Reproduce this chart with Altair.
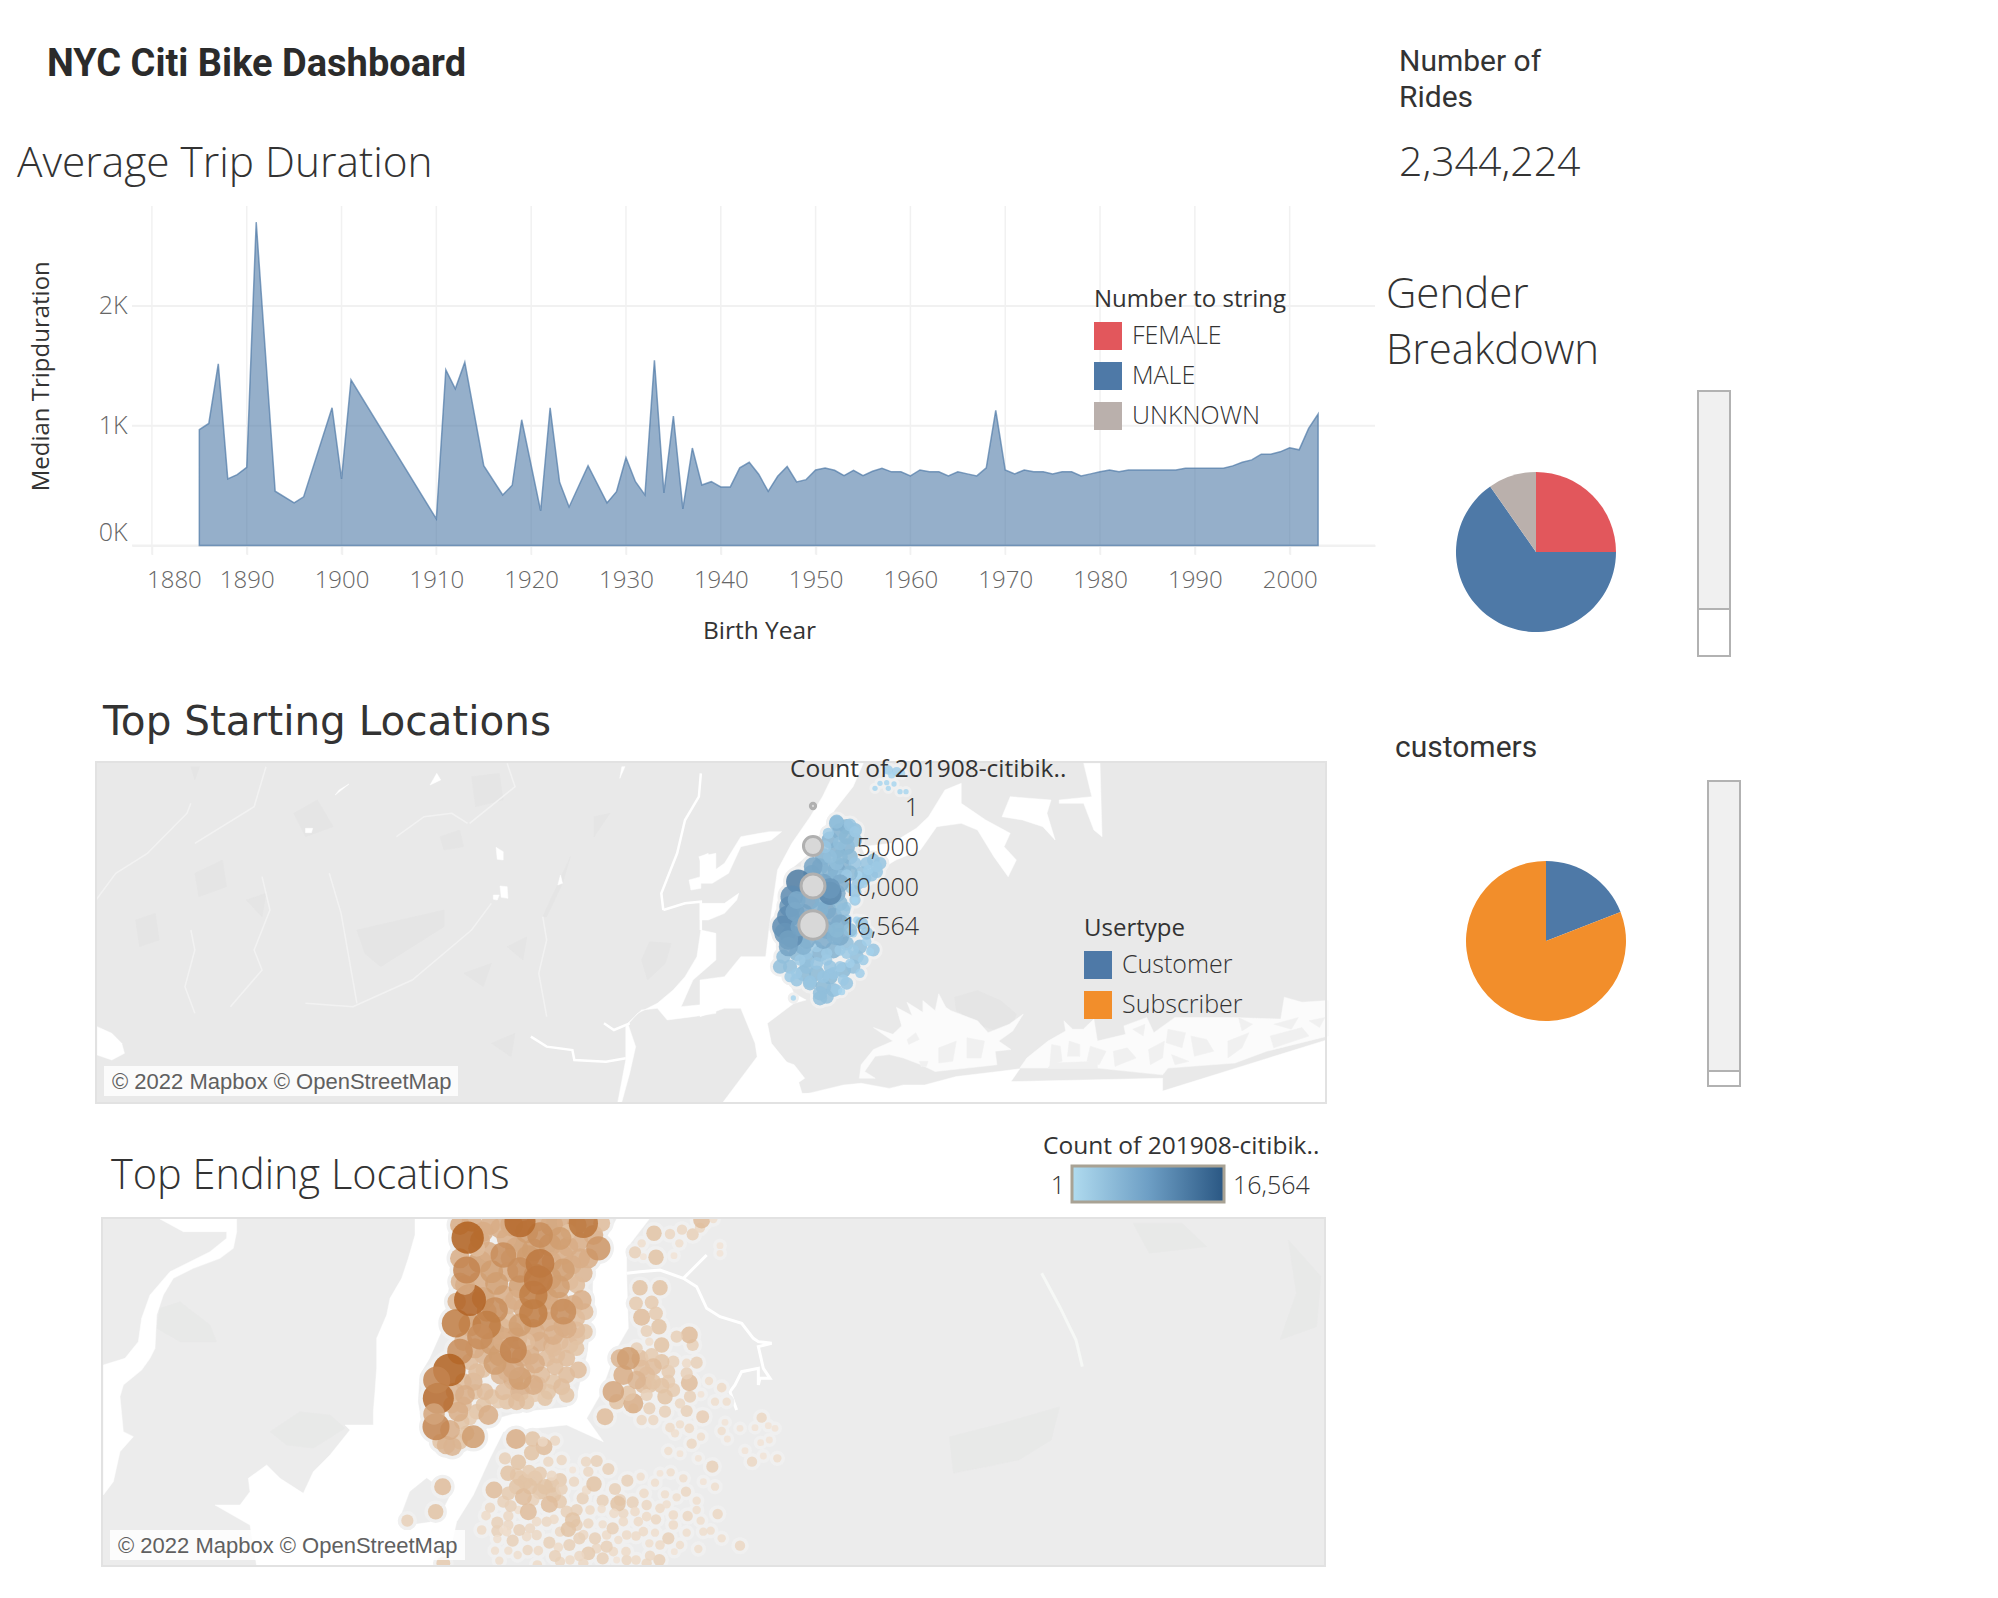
import altair as alt
import pandas as pd

# ---------- area chart ----------
birth_year = [1885,1886,1887,1888,1889,1890,1891,1893,1895,1896,1899,1900,1901,1910,1911,1912,1913,1915,1917,1918,1919,1921,1922,1923,1924,1926,1928,1929,1930,1931,1932,1933,1934,1935,1936,1937,1938,1939,1940,1941,1942,1943,1944,1945,1946,1947,1948,1949,1950,1951,1952,1953,1954,1955,1956,1957,1958,1959,1960,1961,1962,1963,1964,1965,1966,1967,1968,1969,1970,1971,1972,1973,1974,1975,1976,1977,1978,1979,1980,1981,1982,1983,1984,1985,1986,1987,1988,1989,1990,1991,1992,1993,1994,1995,1996,1997,1998,1999,2000,2001,2002,2003]
median_trip = [967,1019,1517,556,592,653,2700,453,356,406,1150,556,1383,222,1467,1308,1531,667,422,503,1050,289,1150,528,322,667,356,450,733,533,422,1547,439,1081,306,814,506,533,489,489,648,695,595,452,578,659,531,550,631,648,628,584,628,584,620,645,615,615,581,631,615,615,581,615,598,581,648,1128,631,598,631,615,615,598,615,615,581,598,615,631,615,631,631,631,631,631,631,645,645,645,645,645,665,695,715,763,763,782,816,799,978,1098]
year_ticks = list(range(1880, 2001, 10))
value_ticks = [0, 1000, 2000]

# ---------- pies ----------
gender_labels = ["FEMALE", "MALE", "UNKNOWN"]
gender_share = [25.0, 65.3, 9.7]
gender_colors = ["#e2575c", "#4e79a7", "#bab0ac"]
user_labels = ["Customer", "Subscriber"]
user_share = [19.1, 80.9]
user_colors = ["#4e79a7", "#f28e2b"]

# ---------- start stations (map units, count) ----------
start_fill_upper = [(290,190,2630),(320,200,2630),(345,210,1975),(300,215,3360),(270,240,3360),(320,260,3360),(345,240,1975),(290,270,3360),(250,290,3360),(330,290,2630),(240,320,3360),(310,320,3360),(345,310,1390),(215,340,3360),(290,330,4170),(330,340,2630)]
start_fill_queens = [(400,300,1390),(420,310,1390),(380,310,1390),(365,340,1975),(395,345,1390),(410,335,1390),(355,370,1390),(375,355,1390),(345,395,1390),(345,420,890)]
start_fill_lower = [(130,590,1975),(170,580,2630),(200,600,2630),(240,580,3360),(280,570,3360),(320,550,1975),(360,560,1975),(400,570,1390),(350,590,1975),(150,620,1975),(190,640,2630),(230,640,2630),(270,650,2630),(310,630,2630),(340,620,1975),(170,660,1390),(210,670,1975),(250,680,2630),(280,690,1975),(320,670,1390),(260,710,1975),(240,715,1975)]
start_brooklyn = [(120,620,1975),(150,650,890),(170,640,890),(200,620,1975),(230,610,1390),(260,600,890),(280,640,1390),(300,620,890),(330,610,465),(340,570,890),(380,545,465),(390,575,250),(370,600,712),(360,640,465),(310,660,890),(240,700,1975),(290,690,890),(305,695,117),(160,714,1),(210,665,1390),(250,650,1390),(200,580,1390),(230,560,890),(260,580,890),(180,600,890),(320,580,890),(300,570,890),(270,620,1390),(340,520,250),(320,480,890),(350,480,117)]
start_queens = [(355,345,250),(385,330,712),(410,320,890),(370,370,465),(345,420,117),(320,440,465),(330,385,465)]
start_upper = [(300,350,1975),(320,345,890),(280,350,1390),(260,360,1390),(220,320,5060),(270,330,3360),(290,310,1975),(300,290,2630),(270,290,1975),(300,250,1975),(320,230,2630),(330,195,1390),(290,185,1975),(345,215,890),(265,220,890),(255,260,1390)]
start_fill_mid = [(210,380,4170),(250,370,5060),(300,370,4170),(290,400,4170),(210,420,5060),(260,450,5060),(300,430,2630),(190,460,5060),(230,480,4170),(280,470,4170),(310,450,1975),(215,510,4170),(260,510,4170),(300,490,4170),(250,540,4170),(200,540,4170),(300,530,4170),(330,510,1975),(365,490,1390),(380,520,1390)]
start_lower = [(285,530,3360),(290,510,2630),(190,560,3360),(230,390,1975),(240,450,3360),(250,420,3360),(280,410,2630),(150,440,7080),(130,500,8200),(155,530,8200),(270,400,9000),(270,385,6500),(175,365,10700),(155,410,8200),(145,470,8200),(165,455,5060),(170,420,4170),(135,520,7080),(180,500,5060),(145,560,5060),(145,540,5500)]
start_north = [(445,30,465),(470,35,465),(455,45,117),(485,40,117),(440,68,1),(420,70,1),(462,72,1),(405,85,1),(445,85,1),(480,95,1),(498,95,1)]
size_legend_values = [1, 5000, 10000, 16564]
size_legend_labels = ["1", "5,000", "10,000", "16,564"]

# ---------- end stations (map units, count) ----------
end_far_south = [(-38,917,1230),(68,815,3220),(47,890,2480),(1025,608,720),(1005,638,67),(1045,632,67),(1065,640,67),(1022,683,67),(1048,675,67),(975,707,67),(1030,723,67),(996,740,720),(1072,730,290),(905,648,290),(922,672,67),(877,755,1230),(960,640,67),(915,622,67),(843,665,290),(815,686,720),(745,708,290),(780,716,67),(835,730,67),(750,638,540),(765,655,290),(808,640,540),(780,628,290)]
end_south_fill = [(420,860,1810),(300,790,2480),(345,790,2480),(395,810,2480),(330,815,2480),(290,780,1810),(250,860,1230),(360,830,2480),(315,800,2480),(400,840,2480),(420,795,1810),(265,930,720),(330,940,720),(350,920,540),(380,920,720),(420,950,720),(470,930,1230),(505,925,720),(490,960,720),(600,855,1230),(610,895,720),(680,870,720),(680,905,540),(720,880,540),(760,900,540),(760,930,540),(830,885,290),(850,950,290),(560,960,540),(620,960,540),(670,950,540),(720,990,540),(780,990,290),(580,1010,540),(350,960,720),(320,965,540),(260,950,540),(420,1040,720),(530,1000,720),(620,1035,720),(680,1045,720)]
end_south_a = [(622,797,1230),(585,822,1230),(662,785,290),(705,803,290),(720,775,67),(752,772,290),(790,790,290),(850,800,67),(885,815,290),(672,835,540),(735,838,290),(798,830,720),(770,847,290),(830,857,290),(740,868,290),(488,850,1230),(548,857,1230),(594,866,2480),(638,862,1230),(210,878,720),(198,902,540),(232,923,1230),(265,903,720),(295,885,290),(440,890,1230),(470,885,1230),(510,885,540),(545,882,290),(645,890,540),(582,895,540),(708,913,720),(803,903,720),(893,897,720),(842,917,290),(402,913,540),(548,928,290),(610,920,540),(655,920,540),(578,940,1230),(185,945,540),(298,945,1230)]
end_south_b = [(232,948,1230),(250,945,290),(705,953,290),(800,953,290),(872,947,290),(905,970,290),(648,963,540),(745,970,1230),(478,970,1230),(525,970,1230),(278,977,1230),(232,972,290),(388,983,1230),(595,975,290),(688,985,290),(960,992,720),(448,990,1230),(415,997,540),(560,995,1230),(835,1002,290),(225,1007,290),(265,1007,290),(323,1005,720),(355,1007,540),(505,1015,1810),(618,1010,540),(763,1010,67),(405,1023,1230),(478,1023,720),(293,1020,290),(548,1030,1230),(718,1035,1230),(690,1022,720),(648,1035,540),(590,1035,67),(238,1037,290),(450,1035,540),(352,1050,540),(490,1045,720),(70,1045,1810)]
end_downtown_bk = [(405,677,720),(255,730,1230),(385,740,720),(425,735,720),(498,740,720),(530,738,1230),(458,765,67),(505,770,720),(565,762,1230),(395,782,720),(462,800,720),(500,825,540),(425,822,1230),(340,855,1230),(272,873,1230),(288,672,4940),(338,672,2480),(372,695,3220),(368,680,720),(335,713,2480),(295,742,2480),(264,775,2480),(327,770,1810),(360,775,1810),(222,825,3220),(290,815,2480),(265,835,1810),(375,815,2480),(310,845,3220),(522,807,2480),(325,890,3220),(388,868,3220),(458,915,2480),(445,943,2480)]
end_north_bk = [(702,55,2480),(750,57,720),(786,44,720),(818,58,1230),(840,38,720),(845,15,3220),(880,12,290),(645,112,1230),(665,85,290),(708,127,2480),(670,125,67),(778,85,290),(762,122,67),(900,92,67),(900,115,67),(660,218,2480),(720,218,2480),(648,265,1810),(695,262,1810),(665,307,3220),(708,295,1810),(717,335,2480),(680,348,1230),(688,380,290)]
end_mid_fill = [(680,480,3220),(690,510,2480),(670,510,3220),(600,430,4050),(745,470,1810),(745,500,1810),(700,500,2480),(660,430,3220)]
end_mid_bk = [(867,498,290),(905,518,540),(920,560,290),(885,560,290),(843,538,67),(848,605,1500),(700,615,720),(665,615,720),(688,580,1230),(800,588,1230),(780,565,720),(735,590,1230),(680,540,1230),(810,545,1230),(760,525,1810),(725,512,2480),(735,545,2480),(808,503,3220),(800,475,1230),(800,445,540),(830,443,1230),(760,440,1230),(818,390,1230),(808,360,3220),(770,365,1230),(725,390,2480),(725,440,2480),(695,420,1810),(700,455,3220),(665,460,3220),(650,400,1230),(640,580,720),(590,560,2480),(555,605,3220),(640,565,4940),(625,535,2480),(580,530,5920),(650,495,4050),(610,480,4940),(625,430,6970)]
end_fill_low = [(130,500,3220),(165,530,2480),(190,570,2480),(215,545,2480),(260,560,2480),(300,530,4940),(320,560,2480),(375,550,2480),(130,570,3220),(170,590,2480),(105,530,4050),(95,570,3220),(60,680,2480),(120,680,2480),(190,420,4050),(240,420,6970),(330,420,4940),(380,430,3220),(440,430,3220),(150,440,3220),(190,465,2480),(240,480,4050),(280,495,4940),(355,510,3220),(400,500,2480),(440,480,3220)]
end_fill_mid = [(150,330,6970),(240,340,6970),(280,350,4940),(340,340,4050),(430,335,4940),(470,345,3220),(130,380,4050),(165,400,4940),(215,385,6970),(290,370,5920),(360,380,4940),(400,400,3220),(470,400,2480),(110,260,4050),(190,250,6970),(250,240,4940),(380,250,6970),(420,260,4940),(460,270,4940),(200,290,4940),(265,270,4050),(310,280,4940),(385,285,4940),(470,310,3220)]
end_fill_top = [(120,30,4940),(155,20,4940),(210,30,4940),(275,30,6970),(320,50,6970),(395,30,6970),(440,20,4940),(520,60,4940),(180,75,4940),(290,100,6970),(390,90,6970),(340,105,6970),(445,95,4940),(505,130,4940),(180,140,6970),(120,130,4940),(265,170,4940),(270,130,4050),(345,180,6970),(390,190,6970),(455,150,4940),(490,175,4050),(450,200,3220),(120,200,4050),(175,200,4940),(300,215,6970)]
end_mn_east = [(345,540,1810),(385,530,2480),(425,515,3220),(440,540,2480),(475,465,3220),(405,455,3220),(410,420,3220),(450,390,3220),(470,365,3220),(495,350,2480),(365,480,3220),(395,390,3220),(320,470,3220),(260,470,4050),(420,380,3220),(345,350,4940),(235,560,1810),(290,560,3220),(250,530,3220),(305,425,4940),(345,445,4940),(340,510,4940),(300,490,6970)]
end_mn_mid = [(240,40,4940),(190,50,4940),(260,70,4940),(205,110,4940),(170,100,3220),(470,210,3220),(480,130,4940),(470,30,4940),(475,80,4940),(350,20,4940),(430,120,4940),(445,50,2480),(545,25,3220),(495,290,3220),(485,255,4940),(440,340,4940),(400,360,4940),(385,320,4940),(395,140,4940),(265,315,3220),(320,380,3220),(250,380,4940),(300,330,6970),(285,255,4940),(280,460,5920),(225,445,6970),(230,205,6970),(215,170,6970),(250,120,9320),(325,125,6970),(300,165,9320),(225,285,9320),(200,330,11980),(430,165,6970),(415,215,6970),(430,290,9320),(420,70,6970),(535,100,8100),(360,60,9320),(300,20,14950),(490,25,13000),(340,240,11980),(340,295,11980),(280,405,10600),(360,145,12500),(355,195,12500)]
end_mn_west = [(150,610,1810),(125,620,2480),(97,695,4050),(78,690,4050),(140,655,2480),(195,530,3220),(160,500,4050),(170,470,3220),(205,600,4940),(115,590,4940),(135,540,4940),(90,645,4940),(120,410,9320),(180,365,9320),(48,635,10610),(160,665,6970),(55,550,14950),(88,465,16564),(42,597,5920),(50,495,10610),(108,325,11980),(150,255,16000),(135,210,4940),(140,165,10610),(143,68,16564)]

# ---------- base-map shapes ----------
m1_atlantic_z12 = [(0,295),(40,310),(70,350),(35,375),(60,400),(180,370),(230,365),(310,380),(350,370),(410,370),(500,345),(620,330),(680,322),(655,360),(1085,350),(1085,388),(1555,235),(1555,423),(0,423)]
m1_jamaica_z12 = [(265,200),(320,220),(345,195),(330,140),(375,165),(360,125),(405,155),(405,120),(440,150),(450,100),(470,140),(485,150),(560,180),(590,215),(650,190),(690,160),(660,210),(620,240),(655,265),(610,270),(615,310),(530,320),(440,330),(400,310),(350,290),(310,280),(270,285),(240,330),(270,350),(225,350),(230,310),(265,265),(320,240)]
m1_south_lagoon_z12 = [(700,290),(760,240),(810,210),(805,180),(830,205),(860,205),(890,175),(900,240),(980,220),(975,195),(1040,170),(1060,215),(1120,170),(1280,170),(1420,175),(1430,110),(1480,125),(1555,120),(1555,225),(1380,270),(1290,305),(1100,320),(1085,340),(900,320),(680,320)]
m1_islands_z12 = [[(360,235),(385,215),(395,235),(365,250)],[(395,300),(420,300),(415,315),(400,315)],[(820,240),(850,250),(850,285),(815,285)],[(770,250),(795,255),(800,300),(765,310)],[(880,255),(925,270),(905,310),(870,300)],[(945,270),(985,260),(1010,290),(950,315)],[(1045,265),(1090,240),(1085,290),(1050,310)],[(1100,205),(1150,215),(1140,260),(1095,245)],[(1165,225),(1210,235),(1230,270),(1175,285)],[(1110,280),(1160,300),(1120,310)],[(1270,240),(1330,215),(1310,260),(1270,290)],[(1300,170),(1340,190),(1310,210)],[(1400,190),(1470,170),(1450,205)],[(1390,225),(1480,200),(1500,225),(1400,260)],[(1500,180),(1545,170),(1530,200)],[(1000,205),(1035,190),(1030,225)],[(770,305),(900,300),(900,320),(760,320)],[(450,260),(500,240),(490,300),(450,305)],[(530,230),(580,240),(570,290),(530,290)]]
m1_airport_z12 = [(495,110),(560,90),(625,120),(670,160),(660,190),(620,210),(585,200),(500,150)]
m1_bay_z8 = [(190,590),(100,590),(60,650),(0,660),(0,770),(60,745),(100,745),(135,850),(140,890),(55,1029),(500,1029),(530,1000),(250,1000),(235,940),(175,850),(165,790),(230,730),(260,720),(230,700)]
m1_hudson_z8 = [(340,10),(400,10),(375,80),(330,150),(300,210),(260,290),(210,340),(215,600),(160,600),(170,500),(190,330),(225,250),(270,170),(300,110)]
m1_sound_z8 = [[(395,260),(470,250),(530,205),(560,170),(600,90),(640,70),(640,130),(700,180),(760,220),(745,260),(775,300),(755,350),(720,290),(680,210),(640,190),(580,200),(540,270),(480,300),(440,330),(410,300)],[(740,170),(760,110),(860,120),(850,160),(870,240),(840,200),(790,180)],[(880,120),(960,110),(940,10),(980,10),(985,230),(965,210),(940,130),(880,130)]]
m1_west_z8 = [[(0,290),(20,280),(25,340),(60,310),(100,230),(170,215),(200,215),(175,240),(100,260),(70,340),(30,370),(0,370)],[(0,430),(60,430),(95,400),(90,420),(60,460),(20,480),(0,480)]]
m1_newark_z9 = [(1530,510),(1568,520),(1568,600),(1510,660),(1480,740),(1568,730),(1568,760),(1510,770),(1445,780),(1420,745),(1380,750),(1345,790),(1365,860),(1350,940),(1330,1026),(1320,1026),(1340,900),(1340,800),(1370,760),(1420,730),(1460,690),(1490,650),(1520,590)]
m1_lakes_z9 = [[(3,800),(40,820),(65,850),(72,880),(40,900),(3,885)],[(1012,262),(1030,275),(1030,300),(1015,298)],[(1022,378),(1040,380),(1042,415),(1025,412)],[(1005,405),(1020,405),(1015,420),(1005,418)],[(640,72),(605,105),(615,90)],[(862,40),(872,60),(845,75)],[(530,205),(548,205),(545,218),(530,218)],[(1330,20),(1338,20),(1325,55)],[(1175,345),(1180,370),(1168,375)],[(1525,290),(1568,280),(1568,360),(1545,360)],[(1500,360),(1530,350),(1530,385),(1505,390)]]
m1_patches_z9 = [[(1380,600),(1400,545),(1455,550),(1440,610),(1395,660)],[(1130,470),(1200,290),(1180,370),(1140,470)],[(870,230),(920,210),(930,260),(880,270)],[(660,510),(880,450),(880,500),(720,620),(680,580)],[(950,50),(1020,40),(1030,120),(960,140)],[(930,640),(1000,610),(980,680)],[(1260,170),(1300,160),(1260,230)],[(240,20),(262,20),(250,60)],[(100,480),(150,460),(160,540),(110,560)],[(500,160),(560,120),(600,200),(530,230)],[(250,340),(320,300),(330,380),(260,410)],[(380,420),(430,400),(420,470)],[(1040,560),(1090,530),(1080,600)],[(1000,850),(1060,820),(1050,890)]]
m1_rivers_z9 = [[(1435,450),(1430,400),(1450,340),(1470,280),(1490,180),(1525,110),(1530,40)],[(1435,450),(1490,430),(1530,425),(1530,510)],[(1100,830),(1140,860),(1205,870),(1210,900),(1290,905),(1340,895)],[(1285,790),(1310,810),(1350,790)]]
m1_faint_z9 = [[(945,190),(1060,80),(1040,10)],[(530,730),(650,740),(800,660),(950,510),(1000,430)],[(1130,470),(1140,540),(1120,640),(1140,770)],[(420,350),(440,450),(400,570),(420,630),(340,740)],[(240,510),(250,570),(225,680),(250,760)],[(0,420),(50,340),(130,280),(230,160),(240,130)],[(660,730),(620,460),(590,340)],[(760,230),(830,170),(900,160),(940,190)],[(250,250),(400,140),(410,100),(430,20)]]

m2_bay = [(-15,9),(-15,60),(-35,130),(-55,190),(-90,250),(-100,300),(-130,370),(-130,460),(-135,530),(-140,590),(-140,630),(-225,630),(-210,645),(-270,720),(-320,770),(-350,835),(-420,790),(-460,750),(-515,790),(-510,830),(-540,870),(-615,870),(-510,930),(-490,1053),(80,1053),(110,920),(160,840),(210,730),(250,650),(440,630),(550,680),(500,610),(540,540),(590,400),(625,340),(620,180),(620,100),(690,9)]
m2_manhattan = [(590,9),(520,140),(515,300),(500,420),(470,540),(440,575),(300,590),(230,610),(170,670),(120,700),(60,690),(10,650),(-5,560),(0,480),(30,430),(70,340),(90,200),(95,9)]
m2_govisland = [(-30,830),(20,790),(90,840),(70,880),(30,920),(-40,930),(-60,910)]
m2_passaic = [(-780,12),(-550,12),(-550,50),(-560,100),(-600,130),(-680,160),(-740,190),(-770,240),(-790,300),(-795,400),(-810,430),(-835,465),(-890,510),(-900,545),(-890,650),(-860,665),(-900,710),(-920,800),(-950,840),(-950,450),(-885,430),(-845,380),(-835,310),(-810,240),(-750,170),(-630,110),(-580,70),(-580,50),(-710,50)]
m2_patches = [[(-780,280),(-720,260),(-630,330),(-610,380),(-720,380),(-790,340)],[(-450,650),(-360,590),(-270,600),(-225,640),(-320,700),(-400,690)],[(1747,625),(1919,575),(1894,675),(1797,735),(1600,775),(1588,665)],[(2605,75),(2703,185),(2690,335),(2580,375),(2629,235)],[(2139,25),(2286,25),(2360,95),(2188,115)],[(-230,710),(-190,700),(-170,730),(-205,760)]]
m2_creek = [[(620,175),(660,170),(720,165),(790,190),(830,215),(860,280),(900,305),(965,325),(1000,370),(1015,380),(1055,385),(1015,395),(1030,460),(1050,490),(1020,490),(1015,510),(1015,460),(965,470),(945,510),(930,530),(950,585)],[(790,190),(860,120)]]
m2_flushing = [[(1865,175),(1919,275),(1968,375),(1987,455)]]

FONT_LIGHT = "Open Sans"
ONE = pd.DataFrame({"a": [0]})


def z8(p):
    return [(1.2245 * x - 120, y) for x, y in p]


def z9(p):
    return [(1.186 * x - 1932, y) for x, y in p]


def z12(p):
    return [(1.058 * x + 120, 1.0135 * y + 600) for x, y in p]


def shape_frame(shapes):
    rows = []
    for i, pts in enumerate(shapes):
        for j, (x, y) in enumerate(pts):
            rows.append({"x": x, "y": y, "id": i, "ord": j})
    return pd.DataFrame(rows)


def polygons(shapes, fill, sx, sy):
    return alt.Chart(shape_frame(shapes)).mark_line(
        fill=fill, stroke=fill, strokeWidth=0.5, interpolate="linear-closed"
    ).encode(
        x=alt.X("x:Q", scale=sx, axis=None),
        y=alt.Y("y:Q", scale=sy, axis=None),
        detail="id:N",
        order="ord:Q",
    )


def paths(shapes, color, width, sx, sy):
    return alt.Chart(shape_frame(shapes)).mark_line(stroke=color, strokeWidth=width).encode(
        x=alt.X("x:Q", scale=sx, axis=None),
        y=alt.Y("y:Q", scale=sy, axis=None),
        detail="id:N",
        order="ord:Q",
    )


def text(s, px, py, size, font="Open Sans", weight=400, color="#333333", align="left"):
    return alt.Chart(pd.DataFrame({"label": [s]})).mark_text(
        align=align, baseline="middle", font=font, fontSize=size, fontWeight=weight, color=color
    ).encode(text="label:N", x=alt.value(px - 8), y=alt.value(py - 8))


def box(px0, py0, px1, py1, **kw):
    return alt.Chart(ONE).mark_rect(**kw).encode(
        x=alt.value(px0 - 8), x2=alt.value(px1 - 8), y=alt.value(py0 - 8), y2=alt.value(py1 - 8)
    )


def station_frame(*groups):
    rows = [r for g in groups for r in g]
    return pd.DataFrame(rows, columns=["x", "y", "count"])


def credit(px0, py0, px1, py1):
    return [
        box(px0, py0, px1, py1, color="#ffffff", opacity=0.82),
        text("© 2022 Mapbox © OpenStreetMap", px0 + 8, (py0 + py1) / 2 + 1, 22, font="Liberation Sans", color="#606060"),
    ]


# ---------- area chart ----------
ax = alt.Scale(domain=[1877.9, 2009.0], range=[124, 1367], nice=False, zero=False)
ay = alt.Scale(domain=[0, 2835], range=[537.5, 198], nice=False)
x_axis = alt.Axis(
    values=year_ticks, format="d", title="Birth Year", orient="bottom", offset=-1044.5,
    grid=False, domainColor="#f1f1f1", domainWidth=2,
    tickColor="#f1f1f1", tickSize=9, tickWidth=1.5,
    labelFont=FONT_LIGHT, labelFontWeight=300, labelFontSize=24, labelColor="#666666", labelPadding=14,
    labelOffset=alt.expr("datum.value==1880?22:0"),
    titleFont=FONT_LIGHT, titleFontWeight=400, titleFontSize=24.5, titleColor="#333333", titlePadding=27, titleX=751,
)
y_axis = alt.Axis(
    values=value_ticks, labelExpr="(datum.value/1000)+'K'", title="Median Tripduration", orient="left", offset=-124,
    grid=False, domain=False, ticks=False,
    labelFont=FONT_LIGHT, labelFontWeight=300, labelFontSize=25, labelColor="#666666", labelPadding=5,
    labelBaseline=alt.expr("datum.value==0?'bottom':'middle'"),
    titleFont=FONT_LIGHT, titleFontWeight=400, titleFontSize=24, titleColor="#333333", titlePadding=45,
)
v_grid = alt.Chart(pd.DataFrame({"year": year_ticks})).mark_rule(color="#f1f1f1", strokeWidth=1.5).encode(
    x=alt.X("year:Q", scale=ax, axis=x_axis), y=alt.value(198), y2=alt.value(546.5)
)
h_grid = alt.Chart(pd.DataFrame({"median": value_ticks})).mark_rule(color="#f1f1f1", strokeWidth=2).encode(
    y=alt.Y("median:Q", scale=ay, axis=y_axis), x=alt.value(124), x2=alt.value(1367)
)
area = alt.Chart(pd.DataFrame({"year": birth_year, "median": median_trip})).mark_area(
    fill="#4e79a7", fillOpacity=0.6, stroke="#4e79a7", strokeOpacity=0.7, strokeWidth=1.5
).encode(
    x=alt.X("year:Q", scale=ax, axis=x_axis),
    y=alt.Y("median:Q", scale=ay, axis=y_axis),
)
area_group = alt.layer(v_grid, h_grid, area)

# ---------- map 1 ----------
m1x = alt.Scale(domain=[-1932, 1758], range=[88, 1318], nice=False, zero=False)
m1y = alt.Scale(domain=[6, 1029], range=[754, 1095], nice=False, zero=False)
m1_count = station_frame(start_fill_lower, start_brooklyn, start_fill_queens, start_queens, start_north,
                         start_fill_upper, start_upper, start_fill_mid, start_lower)
size1 = alt.Size("count:Q", scale=alt.Scale(type="pow", exponent=0.7, domain=[1, 16564], range=[28, 806], zero=False), legend=None)
m1_halo = alt.Chart(m1_count).mark_circle(color="#f0f0f0", opacity=1, stroke="#f0f0f0", strokeWidth=6).encode(
    x=alt.X("x:Q", scale=m1x, axis=None), y=alt.Y("y:Q", scale=m1y, axis=None), size=size1,
)
m1_dots = alt.Chart(m1_count).mark_circle(opacity=0.85).encode(
    x=alt.X("x:Q", scale=m1x, axis=None), y=alt.Y("y:Q", scale=m1y, axis=None), size=size1,
    color=alt.Color(
        "count:Q",
        scale=alt.Scale(type="pow", exponent=0.8, domain=[1, 16564], range=["#a9d6ef", "#2a5783"]),
        legend=None,
    ),
)
size_key = []
for v, py in zip(size_legend_values, [806, 846, 886, 925]):
    size_key.append(
        alt.Chart(pd.DataFrame({"count": [v]})).mark_circle(
            fill="#d8d8d8", stroke="#b0b0b0", strokeWidth=3, opacity=1
        ).encode(x=alt.value(813 - 8), y=alt.value(py - 8), size=size1)
    )
map1_group = alt.layer(
    box(96, 762, 1326, 1103, color="#e9e9e9"),
    polygons([z12(m1_airport_z12)] + [z9(p) for p in m1_patches_z9], "#e5e5e5", m1x, m1y),
    paths([z9(p) for p in m1_faint_z9], "#f2f2f2", 1.5, m1x, m1y),
    paths([z9(p) for p in m1_rivers_z9], "#ffffff", 2.5, m1x, m1y),
    polygons([z12(m1_atlantic_z12), z8(m1_bay_z8), z8(m1_hudson_z8), z9(m1_newark_z9)]
             + [z8(p) for p in m1_sound_z8] + [z8(p) for p in m1_west_z8] + [z9(p) for p in m1_lakes_z9],
             "#ffffff", m1x, m1y),
    polygons([z12(m1_jamaica_z12), z12(m1_south_lagoon_z12)], "#fbfbfb", m1x, m1y),
    polygons([z12(p) for p in m1_islands_z12], "#f0f0f0", m1x, m1y),
    m1_halo,
    m1_dots,
    *size_key,
)

# ---------- map 2 ----------
m2x = alt.Scale(domain=[-954, 2715], range=[94, 1317], nice=False, zero=False)
m2y = alt.Scale(domain=[9, 1053], range=[1210, 1558], nice=False, zero=False)
m2_count = station_frame(end_far_south, end_south_fill, end_south_a, end_south_b, end_north_bk, end_mid_fill, end_mid_bk,
                         end_downtown_bk, end_fill_low, end_mn_east, end_fill_mid, end_fill_top, end_mn_mid, end_mn_west)
size2 = alt.Size("count:Q", scale=alt.Scale(type="pow", exponent=0.85, domain=[1, 16564], range=[38, 1050], zero=False), legend=None)
m2_halo = alt.Chart(m2_count).mark_circle(color="#f0f0f0", opacity=1, stroke="#f0f0f0", strokeWidth=7).encode(
    x=alt.X("x:Q", scale=m2x, axis=None), y=alt.Y("y:Q", scale=m2y, axis=None), size=size2,
)
m2_dots = alt.Chart(m2_count).mark_circle(opacity=0.85).encode(
    x=alt.X("x:Q", scale=m2x, axis=None), y=alt.Y("y:Q", scale=m2y, axis=None), size=size2,
    color=alt.Color("count:Q", scale=alt.Scale(type="pow", exponent=0.7, domain=[1, 16564], range=["#f2e6da", "#b0601f"]), legend=None),
)
map2_group = alt.layer(
    box(102, 1218, 1325, 1566, color="#ececec"),
    polygons(m2_patches, "#e8e9e8", m2x, m2y),
    polygons([m2_bay, m2_passaic], "#ffffff", m2x, m2y),
    polygons([m2_manhattan, m2_govisland], "#ececec", m2x, m2y),
    paths(m2_creek, "#ffffff", 3, m2x, m2y),
    paths(m2_flushing, "#f6f8f6", 3, m2x, m2y),
    m2_halo,
    m2_dots,
)

# ---------- masks, frames, labels ----------
blue_ramp = alt.LinearGradient(
    gradient="linear",
    stops=[alt.GradientStop(color="#b0dbef", offset=0), alt.GradientStop(color="#6e9fc5", offset=0.5), alt.GradientStop(color="#2a5783", offset=1)],
    x1=0, x2=1, y1=0, y2=0,
)
overlays = [
    box(60, 1195, 1060, 1217, color="#ffffff"),
    box(60, 1567, 1400, 1598, color="#ffffff"),
    box(96, 762, 1326, 1103, fillOpacity=0, stroke="#e2e2e2", strokeWidth=2),
    box(102, 1218, 1325, 1566, fillOpacity=0, stroke="#e2e2e2", strokeWidth=2),
    *credit(104, 1066, 458, 1096),
    *credit(110, 1530, 465, 1560),
    box(1072, 1166, 1224, 1202, color=blue_ramp, stroke="#a8a294", strokeWidth=3),
    text("NYC Citi Bike Dashboard", 47, 65, 38, font="Roboto", weight=700, color="#2b2b2b"),
    text("Average Trip Duration", 17, 164, 42.4, weight=300),
    text("Top Starting Locations", 103, 723, 40.5, font="DejaVu Sans"),
    text("Top Ending Locations", 111, 1177, 41.5, weight=300),
    text("Count of 201908-citibik..", 790, 770, 24.5),
    text("Count of 201908-citibik..", 1043, 1147, 24.5),
    text("1", 1065, 1186, 25, weight=300, align="right"),
    text("16,564", 1233, 1186, 25, weight=300),
    text("Number of", 1399, 62, 30, font="Roboto"),
    text("Rides", 1399, 98, 30, font="Roboto"),
    text("2,344,224", 1399, 164, 41, weight=300),
    text("Gender", 1386, 295, 42, weight=300),
    text("Breakdown", 1386, 351, 42, weight=300),
    text("customers", 1395, 748, 30, font="Roboto"),
]
for label, py in zip(size_legend_labels, [808, 848, 888, 927]):
    overlays.append(text(label, 919, py, 25, weight=300, align="right"))


# ---------- pies ----------
def legend_for(title, lx, ly):
    return alt.Legend(
        title=title, orient="none", legendX=lx, legendY=ly, symbolType="square", symbolSize=784,
        symbolStrokeWidth=0, symbolOpacity=1, rowPadding=12, labelOffset=10, titlePadding=10,
        labelFont=FONT_LIGHT, labelFontWeight=300, labelFontSize=25, labelColor="#333333",
        titleFont=FONT_LIGHT, titleFontWeight=400, titleFontSize=24, titleColor="#333333", titleLimit=300,
    )


def pie(labels, share, colors, legend, cx, cy):
    return alt.Chart(pd.DataFrame({"label": labels, "share": share, "idx": list(range(len(labels)))})).mark_arc(radius=80).encode(
        theta=alt.Theta("share:Q", stack=True),
        color=alt.Color("label:N", scale=alt.Scale(domain=labels, range=colors), legend=legend),
        order=alt.Order("idx:Q"),
        x=alt.value(cx - 8),
        y=alt.value(cy - 8),
    )


pie1 = pie(gender_labels, gender_share, gender_colors, legend_for("Number to string", 1086, 280), 1536, 552)
pie2 = pie(user_labels, user_share, user_colors, legend_for("Usertype", 1076, 909), 1546, 941)
tracks = [
    box(1698, 391, 1730, 609, fill="#f0f0f0", stroke="#b2b2b2", strokeWidth=2),
    box(1698, 609, 1730, 656, fill="#ffffff", stroke="#b2b2b2", strokeWidth=2),
    box(1708, 781, 1740, 1071, fill="#f0f0f0", stroke="#b2b2b2", strokeWidth=2),
    box(1708, 1071, 1740, 1086, fill="#ffffff", stroke="#b2b2b2", strokeWidth=2),
]

chart = alt.layer(
    area_group, map1_group, map2_group, *overlays, pie1, pie2, *tracks
).resolve_scale(
    x="independent", y="independent", color="independent", size="independent", theta="independent"
).resolve_axis(x="independent", y="independent").resolve_legend(color="independent").properties(
    width=1982, height=1582, padding=0, autosize=alt.AutoSizeParams(type="none")
).configure_view(stroke=None)
chart.save("out.html", embed_options={"renderer": "svg", "actions": False})
